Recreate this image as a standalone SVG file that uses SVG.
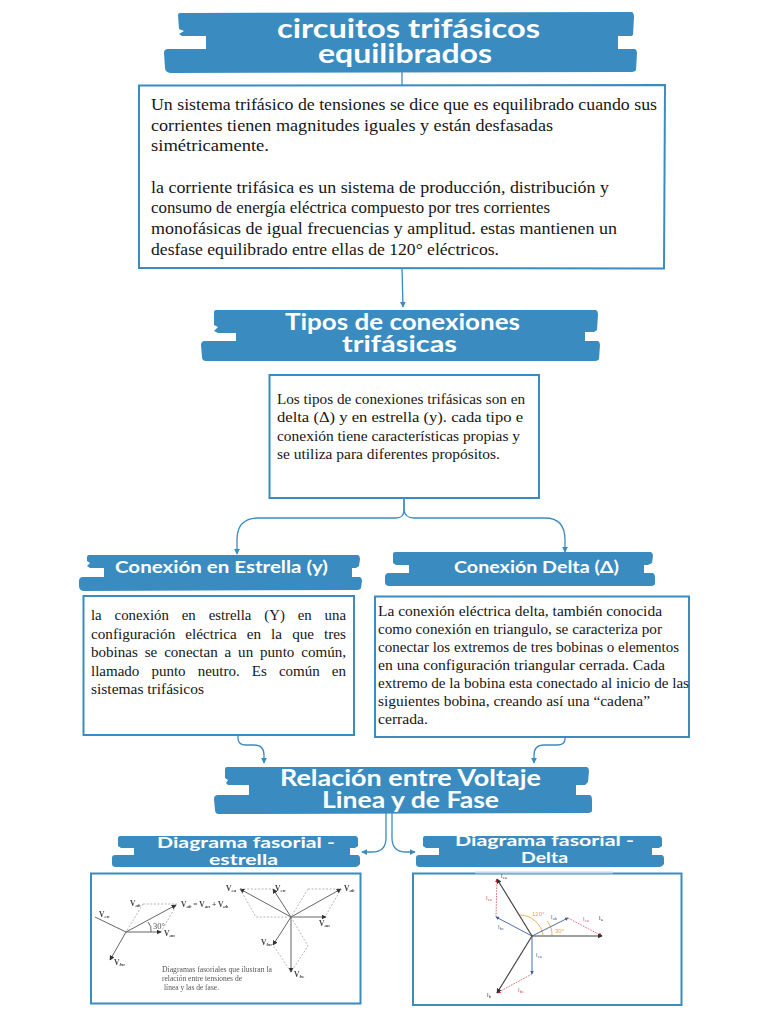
<svg xmlns="http://www.w3.org/2000/svg" width="768" height="1024" viewBox="0 0 768 1024">
<style>
.banner{fill:#3a8cc0}
.box{fill:#fff;stroke:#3a8cc0;stroke-width:2}
.conn{fill:none;stroke:#3a8cc0;stroke-width:1.3}
.head{font-family:"Lato","Noto Sans",sans-serif;font-weight:700;fill:#fff}
.body{font-family:"Liberation Serif","DejaVu Serif",serif;fill:#161616}
.b1{font-size:17px}
.b2{font-size:14.5px}
.ph{font-family:"Liberation Serif",serif;font-size:7.5px;font-weight:700;fill:#444}
.ph tspan{font-size:5px;font-style:italic}
.cap{font-family:"Liberation Serif",serif;font-size:8.5px;fill:#555}
.ln{fill:none;stroke:#666;stroke-width:1}
.dash{fill:none;stroke:#888;stroke-width:.6;stroke-dasharray:2 1.6}
.blk{fill:none;stroke:#444;stroke-width:1.2}
.blu{fill:none;stroke:#4a6fa8;stroke-width:1}
.red{fill:none;stroke:#d9596a;stroke-width:.9;stroke-dasharray:1.6 1.2}
.org{fill:none;stroke:#efb25f;stroke-width:1}
.il{font-family:"Liberation Sans",sans-serif;font-size:6px}
</style>
<defs>
<filter id="soft" x="-5%" y="-5%" width="110%" height="110%"><feGaussianBlur stdDeviation="0.35"/></filter>
<marker id="a" viewBox="0 0 8 8" refX="7" refY="4" markerWidth="6" markerHeight="6" markerUnits="userSpaceOnUse" orient="auto"><path d="M0,0L8,4L0,8Z" fill="#3a8cc0"/></marker>
<marker id="k" viewBox="0 0 8 8" refX="7" refY="4" markerWidth="5" markerHeight="5" markerUnits="userSpaceOnUse" orient="auto"><path d="M0,0L8,4L0,8Z" fill="#333"/></marker>
<marker id="r" viewBox="0 0 8 8" refX="7" refY="4" markerWidth="4" markerHeight="4" markerUnits="userSpaceOnUse" orient="auto"><path d="M0,0L8,4L0,8Z" fill="#d8202f"/></marker>
<marker id="b" viewBox="0 0 8 8" refX="7" refY="4" markerWidth="3.500" markerHeight="3.500" markerUnits="userSpaceOnUse" orient="auto"><path d="M0,0L8,4L0,8Z" fill="#3a5f9c"/></marker>
</defs>

<g id="connectors">
<path class="conn" d="M402,72V85"/>
<path class="conn" marker-end="url(#a)" d="M402,268L403,307"/>
<path class="conn" d="M404,498V510Q404,518 396,518H258Q237,518 237,540V554" marker-end="url(#a)"/>
<path class="conn" d="M404,498V510Q405,518 414,518H545Q565,518 565,540V552" marker-end="url(#a)"/>
<path class="conn" d="M238,735V738Q238,745 246,745H254Q264,745 264,755V763" marker-end="url(#a)"/>
<path class="conn" d="M565,737V739Q565,745 557,745H544Q534,745 534,755V763" marker-end="url(#a)"/>
<path class="conn" d="M386,813V838Q386,852 372,852H362" marker-end="url(#a)"/>
<path class="conn" d="M392,813V838Q392,852 406,852H415" marker-end="url(#a)"/>
</g>

<g id="title">
<path class="banner" d="M180,13L632,12Q634,13 634,17L633,35L630,37L631,36H618V49H635Q637,50 637,53L636,70Q635,72 630,72L170,73Q165,72 165,68L164,53Q164,49 168,49H206V36H182L179,34L184,31L179,29L178,15Q178,13 180,13Z"/>
<text class="head" font-size="27"><tspan x="277" y="38" textLength="263" lengthAdjust="spacingAndGlyphs">circuitos trifásicos</tspan><tspan x="318" y="63" textLength="174" lengthAdjust="spacingAndGlyphs">equilibrados</tspan></text>
</g>

<g id="intro">
<path class="box" d="M139,85.500L665,85L664,268.500L139,268Z"/>
<g class="body b1">
<text x="151" y="110" textLength="506" lengthAdjust="spacingAndGlyphs">Un sistema trifásico de tensiones se dice que es equilibrado cuando sus</text>
<text x="151" y="131" textLength="402" lengthAdjust="spacingAndGlyphs">corrientes tienen magnitudes iguales y están desfasadas</text>
<text x="151" y="151" textLength="118" lengthAdjust="spacingAndGlyphs">simétricamente.</text>
<text x="151" y="193" textLength="458" lengthAdjust="spacingAndGlyphs">la corriente trifásica es un sistema de producción, distribución y</text>
<text x="151" y="213" textLength="399" lengthAdjust="spacingAndGlyphs">consumo de energía eléctrica compuesto por tres corrientes</text>
<text x="151" y="234" textLength="466" lengthAdjust="spacingAndGlyphs">monofásicas de igual frecuencias y amplitud. estas mantienen un</text>
<text x="151" y="255" textLength="348" lengthAdjust="spacingAndGlyphs">desfase equilibrado entre ellas de 120° eléctricos.</text>
</g>
</g>

<g id="tipos">
<path class="banner" d="M216,310L596,310Q598,311 598,314L597,330L594,332H585V341H598Q600,342 600,345L599,359Q598,361 594,361L206,361Q202,361 202,357L201,345Q201,341 205,341H236V333H218L214,331L218,327L214,325L214,312Q214,310 216,310Z"/>
<text class="head" font-size="23"><tspan x="285" y="330" textLength="235" lengthAdjust="spacingAndGlyphs">Tipos de conexiones</tspan><tspan x="342" y="352" textLength="115" lengthAdjust="spacingAndGlyphs">trifásicas</tspan></text>
</g>

<g id="tipos-box">
<path class="box" d="M269.500,375L539,375V498H269.500Z"/>
<g class="body b2">
<text x="277" y="404" textLength="248" lengthAdjust="spacingAndGlyphs">Los tipos de conexiones trifásicas son en</text>
<text x="277" y="422" textLength="246" lengthAdjust="spacingAndGlyphs">delta (Δ) y en estrella (y). cada tipo e</text>
<text x="277" y="441" textLength="243" lengthAdjust="spacingAndGlyphs">conexión tiene características propias y</text>
<text x="277" y="459" textLength="223" lengthAdjust="spacingAndGlyphs">se utiliza para diferentes propósitos.</text>
</g>
</g>

<g id="estrella">
<path class="banner" d="M89,555L358,555Q360,556 360,559L359,566L356,568H352V577H360Q362,578 362,581L361,588Q360,590 356,590L83,591Q79,590 79,586V581Q79,577 83,577H104V568H90L87,566L90,563L87,561V557Q87,555 89,555Z"/>
<text class="head" font-size="17" x="115" y="573" textLength="213" lengthAdjust="spacingAndGlyphs">Conexión en Estrella (y)</text>
</g>

<g id="delta">
<path class="banner" d="M395,552L651,552Q653,553 653,556L652,563L648,565H644V573H653Q655,574 655,577V584Q654,586 650,586L389,586Q385,586 385,582V577Q385,573 389,573H409V565H396L393,563V554Q393,552 395,552Z"/>
<text class="head" font-size="17" x="454" y="573" textLength="165" lengthAdjust="spacingAndGlyphs">Conexión Delta (Δ)</text>
</g>

<g id="estrella-box">
<path class="box" d="M83.500,596H354V735H83.500Z"/>
<g class="body b2">
<text x="91" y="620" word-spacing="9" textLength="255" lengthAdjust="spacingAndGlyphs">la conexión en estrella (Y) en una</text>
<text x="91" y="639" word-spacing="6" textLength="255" lengthAdjust="spacingAndGlyphs">configuración eléctrica en la que tres</text>
<text x="91" y="657" word-spacing="3" textLength="255" lengthAdjust="spacingAndGlyphs">bobinas se conectan a un punto común,</text>
<text x="91" y="676" word-spacing="8" textLength="255" lengthAdjust="spacingAndGlyphs">llamado punto neutro. Es común en</text>
<text x="91" y="694" textLength="113" lengthAdjust="spacingAndGlyphs">sistemas trifásicos</text>
</g>
</g>

<g id="delta-box">
<path class="box" d="M375,596.500H689V737H375Z"/>
<g class="body b2">
<text x="378" y="616" textLength="284" lengthAdjust="spacingAndGlyphs">La conexión eléctrica delta, también conocida</text>
<text x="378" y="634" textLength="284" lengthAdjust="spacingAndGlyphs">como conexión en triangulo, se caracteriza por</text>
<text x="378" y="652" textLength="301" lengthAdjust="spacingAndGlyphs">conectar los extremos de tres bobinas o elementos</text>
<text x="378" y="670" textLength="287" lengthAdjust="spacingAndGlyphs">en una configuración triangular cerrada. Cada</text>
<text x="378" y="688" textLength="311" lengthAdjust="spacingAndGlyphs">extremo de la bobina esta conectado al inicio de las</text>
<text x="378" y="706" textLength="272" lengthAdjust="spacingAndGlyphs">siguientes bobina, creando así una “cadena”</text>
<text x="378" y="724" textLength="50" lengthAdjust="spacingAndGlyphs">cerrada.</text>
</g>
</g>

<g id="relacion">
<path class="banner" d="M227,767L587,767Q589,768 589,771L588,782L585,785H576V795H590Q592,796 592,799V811Q591,813 587,813L219,814Q215,814 215,810L214,799Q214,795 218,795H249V785H228L226,783L228,780L225,778V769Q225,767 227,767Z"/>
<text class="head" font-size="22"><tspan x="280" y="786" textLength="261" lengthAdjust="spacingAndGlyphs">Relación entre Voltaje</tspan><tspan x="322" y="808" textLength="177" lengthAdjust="spacingAndGlyphs">Linea y de Fase</tspan></text>
</g>

<g id="fasorial-estrella">
<path class="banner" d="M120,836L356,836Q358,837 358,839V846L355,848H350V855H358Q360,856 360,858V864Q359,866 356,867L116,867Q112,867 112,864V858Q112,855 115,855H134V848H121L118,846V838Q118,836 120,836Z"/>
<text class="head" font-size="16"><tspan x="157" y="848" textLength="178" lengthAdjust="spacingAndGlyphs">Diagrama fasorial -</tspan><tspan x="209" y="865" textLength="69" lengthAdjust="spacingAndGlyphs">estrella</tspan></text>
</g>

<g id="fasorial-delta">
<path class="banner" d="M425,836L660,836Q662,837 662,839V846L659,848H652V855H662Q664,856 664,858V864Q663,866 660,867L420,867Q416,867 416,864V858Q416,855 419,855H439V848H426L423,846V838Q423,836 425,836Z"/>
<text class="head" font-size="16"><tspan x="455" y="846" textLength="179" lengthAdjust="spacingAndGlyphs">Diagrama fasorial -</tspan><tspan x="521" y="863" textLength="47" lengthAdjust="spacingAndGlyphs">Delta</tspan></text>
</g>

<path class="box" d="M91,873.500H360.500V1003.500H91Z"/>
<g filter="url(#soft)">
<path class="ln" marker-end="url(#k)" d="M126,932L176,905"/>
<path class="ln" marker-end="url(#k)" d="M126,932H161"/>
<path class="ln" d="M126,932L95,917"/>
<path class="ln" marker-end="url(#k)" d="M126,932L110,960"/>
<path class="dash" d="M143,904H177L161,932M143,904L126,932"/>
<path class="ln" stroke-width=".7" d="M148,922Q152,926 151,932"/>
<text class="ph" x="130" y="906">V<tspan dy="1">ab</tspan></text>
<text class="ph" x="181" y="907">V<tspan dy="1">ab</tspan><tspan dy="-1" style="font-size:7.500px;font-style:normal"> = V</tspan><tspan dy="1">an</tspan><tspan dy="-1" style="font-size:7.500px;font-style:normal"> + V</tspan><tspan dy="1">ab</tspan></text>
<text class="ph" x="99" y="917">V<tspan dy="1">cn</tspan></text>
<text class="ph" x="164" y="936">V<tspan dy="1">an</tspan></text>
<text class="ph" x="114" y="965">V<tspan dy="1">bn</tspan></text>
<text class="cap" x="153" y="929">30°</text>
<path class="ln" marker-end="url(#k)" d="M291,917L240,889"/>
<path class="ln" marker-end="url(#k)" d="M291,917L273,889"/>
<path class="ln" marker-end="url(#k)" d="M291,917L341,889"/>
<path class="ln" marker-end="url(#k)" d="M291,917H326"/>
<path class="ln" marker-end="url(#k)" d="M291,917L273,945"/>
<path class="ln" marker-end="url(#k)" d="M291,917V972"/>
<path class="dash" d="M240,889H273M308,889H341L325,917M240,889L256,917H291M308,889L291,917M291,917L308,946L291,972L273,945"/>
<text class="ph" x="226" y="891">V<tspan dy="1">ca</tspan></text>
<text class="ph" x="275" y="891">V<tspan dy="1">cn</tspan></text>
<text class="ph" x="344" y="891">V<tspan dy="1">ab</tspan></text>
<text class="ph" x="319" y="926">V<tspan dy="1">an</tspan></text>
<text class="ph" x="261" y="945">V<tspan dy="1">bn</tspan></text>
<text class="ph" x="294" y="977">V<tspan dy="1">bc</tspan></text>
<text class="cap" x="162" y="972" textLength="110" lengthAdjust="spacingAndGlyphs">Diagramas fasoriales  que ilustran la</text>
<text class="cap" x="162" y="981" textLength="80" lengthAdjust="spacingAndGlyphs">relación entre tensiones de</text>
<text class="cap" x="164" y="990" textLength="55" lengthAdjust="spacingAndGlyphs">línea y las de fase.</text>
</g>

<path class="box" d="M413,873.500H681.500V1005H413Z"/>
<path d="M475,872.500H613" stroke="#b9d8ec" stroke-width="2"/>
<g filter="url(#soft)">
<path class="org" d="M520,915A24,24 0 0 1 543,935"/>
<path class="org" d="M547,921A21,21 0 0 1 552,936"/>
<path class="red" marker-end="url(#r)" d="M496,917L497,879"/>
<path class="red" marker-end="url(#r)" d="M568,918L602,936"/>
<path class="red" marker-end="url(#r)" d="M532,974L497,993"/>
<path class="blu" marker-end="url(#b)" d="M532,936L496,917"/>
<path class="blu" marker-end="url(#b)" d="M532,936L568,918"/>
<path class="blu" marker-end="url(#b)" d="M532,936V974"/>
<path class="blk" marker-end="url(#k)" d="M532,936L497,879"/>
<path class="blk" marker-end="url(#k)" d="M532,936H602"/>
<path class="blk" marker-end="url(#k)" d="M532,936L497,993"/>
<text class="il" x="501" y="878" fill="#444">I<tspan font-size="4" dy="1">ca</tspan></text>
<text class="il" x="486" y="900" fill="#d9596a">I<tspan font-size="4" dy="1">ca</tspan></text>
<text class="il" x="498" y="929" fill="#4a6fa8">I<tspan font-size="4" dy="1">bc</tspan></text>
<text class="il" x="551" y="919" fill="#4a6fa8">I<tspan font-size="4" dy="1">ab</tspan></text>
<text class="il" x="583" y="921" fill="#d9596a">I<tspan font-size="4" dy="1">ca</tspan></text>
<text class="il" x="599" y="920" fill="#444">I<tspan font-size="4" dy="1">a</tspan></text>
<text class="il" x="536" y="957" fill="#4a6fa8">I<tspan font-size="4" dy="1">ca</tspan></text>
<text class="il" x="518" y="992" fill="#d9596a">I<tspan font-size="4" dy="1">bc</tspan></text>
<text class="il" x="487" y="997" fill="#444">I<tspan font-size="4" dy="1">b</tspan></text>
<text class="il" x="532" y="916" fill="#e8a54b">120°</text>
<text class="il" x="555" y="933" fill="#e8a54b">30°</text>
</g>
</svg>
